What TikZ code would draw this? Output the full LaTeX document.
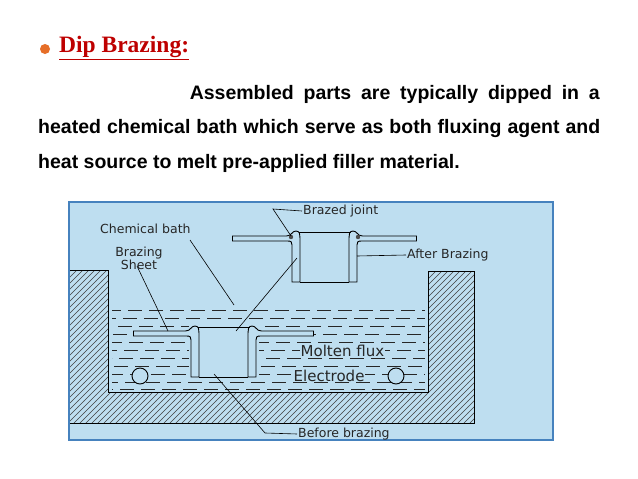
\documentclass[tikz,border=0pt]{standalone}
\usepackage{fontspec}
\setmainfont{Liberation Sans}
\newfontfamily\serif{Liberation Serif}
\newfontfamily\lblfont{DejaVu Sans}
\usetikzlibrary{patterns}
\pgfdeclarepatternformonly{widehatch}{\pgfqpoint{-1pt}{-1pt}}{\pgfqpoint{7pt}{7pt}}{\pgfqpoint{6pt}{6pt}}{
  \pgfsetlinewidth{0.6pt}\pgfpathmoveto{\pgfqpoint{0pt}{0pt}}\pgfpathlineto{\pgfqpoint{6.1pt}{6.1pt}}\pgfusepath{stroke}}
\definecolor{panel}{RGB}{190,222,240}
\definecolor{edge}{RGB}{70,130,190}
\definecolor{title}{RGB}{190,0,0}
\definecolor{bul}{RGB}{230,110,40}
\tikzset{lbl/.style={font=\lblfont\fontsize{12.5}{12}\selectfont, inner sep=1pt, text=black!85},
 body/.style={font=\fontsize{19.5}{22}\selectfont\bfseries, inner sep=0pt},
 lead/.style={black, line width=0.6pt},
 part/.style={black, line width=0.9pt, fill=panel},
 cup/.pic={
   \fill[panel] (-35,-6) rectangle (35,47);
   \draw[part] (-#1,0) -- (-38,0) .. controls (-32.5,0) and (-33,-5) .. (-28.5,-5) .. controls (-24.5,-5) and (-24.5,-1) .. (-24.5,2) -- (-24.5,46) -- (-32.5,46) -- (-32.5,9) .. controls (-32.5,6) and (-33,5) .. (-37,5) -- (-#1,5) -- cycle;
   \draw[part] (#1,0) -- (38,0) .. controls (32.5,0) and (33,-5) .. (28.5,-5) .. controls (24.5,-5) and (24.5,-1) .. (24.5,2) -- (24.5,46) -- (32.5,46) -- (32.5,9) .. controls (32.5,6) and (33,5) .. (37,5) -- (#1,5) -- cycle;
   \draw[black, line width=0.9pt] (-24.5,46) -- (24.5,46);
   \draw[black, line width=0.7pt] (-26,-4) -- (26,-4);
 }}
\begin{document}
\begin{tikzpicture}[x=1pt,y=-1pt]
\useasboundingbox (0,0) rectangle (638,479);
\fill[white] (0,0) rectangle (638,479);
% header
\fill[bul] (45,49) circle (5);
\node[anchor=west, inner sep=0pt, text=title, font=\serif\fontsize{23.5}{26}\selectfont\bfseries] (t) at (59,48) {\underline{Dip Brazing:}};
\node[body, anchor=east] (l1) at (600,94) {\makebox[410pt][s]{Assembled parts are typically dipped in a}};
\node[body, anchor=west] (l2) at (38,129) {\makebox[562pt][s]{heated chemical bath which serve as both fluxing agent and}};
\node[body, anchor=west] (l3) at (38,163) {heat source to melt pre-applied filler material.};
% panel
\fill[panel, draw=edge, line width=1.2pt] (69,202) rectangle (553,440);
% tank
\fill[pattern=widehatch, pattern color=black!75] (70,270) -- (108,270) -- (108,392) -- (428,392) -- (428,271) -- (474,271) -- (474,423) -- (70,423) -- cycle;
\draw[black, line width=0.9pt] (70,270) -- (108,270) -- (108,392) -- (428,392) -- (428,271) -- (474,271) -- (474,423) -- (70,423);
% liquid dashes
\begin{scope}
\clip (112,303) rectangle (425,389);
\foreach \y [count=\i] in {310,318,326,334,342,350,358,366,374,382,389} {
  \draw[black!85, line width=0.7pt, dash pattern=on 14pt off 7pt, dash phase=\i*5pt] (112,\y) -- (425,\y);
}
\end{scope}
% parts
\pic at (223.5,331) {cup=90};
\pic at (324.5,236) {cup=92};
\fill[black!70] (291,237) circle (2.2);
\fill[black!70] (358,237) circle (2.2);
% electrodes
\draw[part] (140,376) circle (8);
% labels
\node[lbl, anchor=west] (bj) at (302,211) {Brazed joint};
\node[lbl, anchor=west] (cb) at (99,229) {Chemical bath};
\node[lbl, align=center, font=\lblfont\fontsize{12.5}{12}\selectfont] (bs) at (139,258) {Brazing\\Sheet};
\node[lbl, anchor=west] (ab) at (406,255) {After Brazing};
\node[lbl, anchor=west, fill=panel, inner sep=0.5pt, font=\lblfont\fontsize{15}{15}\selectfont] (mf) at (300,351) {Molten flux};
\node[lbl, anchor=west, fill=panel, inner sep=0.5pt, font=\lblfont\fontsize{15}{15}\selectfont] (el) at (293,376) {Electrode};
\node[lbl, anchor=west] (bb) at (297,434) {Before brazing};
% leaders
\coordinate (bj1) at (273,209); \coordinate (bj2) at (291,236);
\draw[lead] (bj.west) -- (bj1) -- (bj2);
\coordinate (cb1) at (190,240); \coordinate (cb2) at (234,305);
\draw[lead] (cb1) -- (cb2);
\coordinate (cc1) at (297,258); \coordinate (cc2) at (236,331);
\draw[lead] (cc1) -- (cc2);
\coordinate (bs1) at (137,266); \coordinate (bs2) at (168,331);
\draw[lead] (bs1) -- (bs2);
\coordinate (ab1) at (357,256);
\draw[lead] (ab.west) -- (ab1);
\coordinate (bb1) at (214,374); \coordinate (bb2) at (265,433);
\draw[lead] (bb.west) -- (bb2) -- (bb1);
\draw[part] (396,376) circle (8);
\end{tikzpicture}
\end{document}
